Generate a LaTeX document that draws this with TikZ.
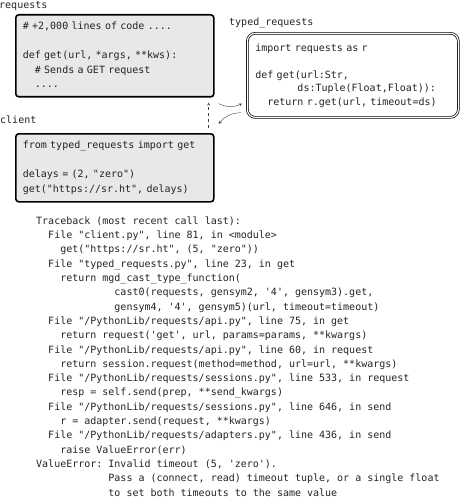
\documentclass[tikz,border=0pt]{standalone}
\usepackage{fontspec}
\setmonofont{DejaVu Sans Mono}
\definecolor{codegray}{RGB}{232,232,232}
\definecolor{codeink}{RGB}{35,35,35}
\newcommand{\ind}[1]{\hspace*{#1\dimexpr 0.602em\relax}}
\begin{document}
\begin{tikzpicture}[>=stealth,
    code/.style={font=\ttfamily\fontsize{10}{14.5}\selectfont, text=codeink},
    pkgname/.style={code, anchor=base west, inner sep=0pt},
    codebox/.style={code, draw, line width=1.6pt, rounded corners=3pt, fill=codegray,
        anchor=north west, align=left, inner xsep=7pt, text width=184pt},
    link/.style={->, thin, draw=black!75}]
    \useasboundingbox (0,0) rectangle (460pt,-500pt);
    % Top left: requests
    \node[pkgname] (labreq) at (-1pt,-9pt) {requests};
    \node[codebox, minimum height=82pt] (req) at (15pt,-14pt) {\strut\# +2,000 lines of code ....\\
        \mbox{}\\
        def get(url, *args, **kws):\\
        \ind{2}\# Sends a GET request\\
        \ind{2}....\strut};
    % Right: typed_requests
    \node[pkgname] (labtyp) at (229pt,-26pt) {typed\_requests};
    \node[code, draw, double, double distance=1.2pt, line width=0.7pt, rounded corners=8pt,
        fill=white, anchor=north west, align=left, inner xsep=8pt, text width=195pt,
        minimum height=84pt, font=\ttfamily\fontsize{10}{13.5}\selectfont] (typ) at (247pt,-33pt)
        {\strut import requests as r\\
        \mbox{}\\
        def get(url:Str,\\
        \ind{7}ds:Tuple(Float,Float)):\\
        \ind{2}return r.get(url, timeout=ds)\strut};
    % Bottom left: client
    \node[pkgname] (labcli) at (0pt,-124pt) {client};
    \node[codebox, minimum height=68pt] (cli) at (15pt,-133pt) {\strut from typed\_requests import get\\
        \mbox{}\\
        delays = (2, "zero")\\
        get("https://sr.ht", delays)\strut};
    % Arrows
    \draw[link, dashed, shorten <=5pt, shorten >=5pt] ([xshift=-6pt]cli.north east) -- ([xshift=-6pt]req.south east);
    \draw[link] ([xshift=4pt,yshift=-6pt]req.south east) to[bend right=25] ([xshift=-5pt,yshift=14pt]typ.south west);
    \draw[link] ([xshift=-6pt,yshift=5pt]typ.south west) to[bend right=25] ([xshift=4pt,yshift=9pt]cli.north east);
    % Traceback
    \node[code, anchor=north west, align=left, inner sep=0pt,
        font=\ttfamily\fontsize{10}{14.3}\selectfont] (trace) at (36pt,-216.5pt) {Traceback (most recent call last):\\
        \ind{2}File "client.py", line 81, in <module>\\
        \ind{4}get("https://sr.ht", (5, "zero"))\\
        \ind{2}File "typed\_requests.py", line 23, in get\\
        \ind{4}return mgd\_cast\_type\_function(\\
        \ind{13}cast0(requests, gensym2, '4', gensym3).get,\\
        \ind{13}gensym4, '4', gensym5)(url, timeout=timeout)\\
        \ind{2}File "/PythonLib/requests/api.py", line 75, in get\\
        \ind{4}return request('get', url, params=params, **kwargs)\\
        \ind{2}File "/PythonLib/requests/api.py", line 60, in request\\
        \ind{4}return session.request(method=method, url=url, **kwargs)\\
        \ind{2}File "/PythonLib/requests/sessions.py", line 533, in request\\
        \ind{4}resp = self.send(prep, **send\_kwargs)\\
        \ind{2}File "/PythonLib/requests/sessions.py", line 646, in send\\
        \ind{4}r = adapter.send(request, **kwargs)\\
        \ind{2}File "/PythonLib/requests/adapters.py", line 436, in send\\
        \ind{4}raise ValueError(err)\\
        ValueError: Invalid timeout (5, 'zero').\\
        \ind{12}Pass a (connect, read) timeout tuple, or a single float\\
        \ind{12}to set both timeouts to the same value};
\end{tikzpicture}
\end{document}
